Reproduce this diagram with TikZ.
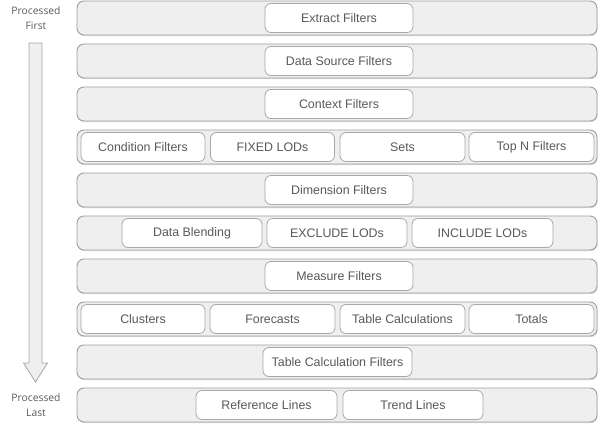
\documentclass[tikz,border=0pt]{standalone}
\usepackage{fontspec}
\setmainfont{Liberation Sans}
\newfontfamily\labelfont{Open Sans}
\usetikzlibrary{shadows}
\definecolor{bandfill}{HTML}{EFEFEF}
\definecolor{bandline}{HTML}{9E9E9E}
\definecolor{boxline}{HTML}{A8A8A8}
\definecolor{txt}{HTML}{595959}
\tikzset{
  band/.style={draw=bandline, line width=0.9pt, fill=bandfill, rounded corners=7pt,
    minimum width=520pt, minimum height=34pt, inner sep=0pt,
    drop shadow={shadow xshift=0.6pt, shadow yshift=-1.2pt, opacity=0.35, fill=black!40}},
  cell/.style={draw=boxline, line width=0.8pt, fill=white, rounded corners=6pt,
    minimum height=29pt, inner sep=0pt, text=txt, font=\fontsize{12.4}{14}\selectfont},
  sidelabel/.style={text=txt, font=\labelfont\fontsize{10.3}{15}\selectfont, align=center, inner sep=0pt},
  flowarrow/.style={draw=boxline, line width=0.8pt, fill=bandfill}
}
\begin{document}
\begin{tikzpicture}[x=1pt,y=-1pt]
\useasboundingbox (0,0) rectangle (600,428);
% bands
\foreach \i in {0,...,9}{
  \node[band] (row\i) at (337,{18+43*\i}) {};
}
% row 1-3
\node[cell, minimum width=148pt] (extract) at (339,18) {Extract Filters};
\node[cell, minimum width=148pt] (datasource) at (339,61) {Data Source Filters};
\node[cell, minimum width=148pt] (context) at (339,104) {Context Filters};
% row 4
\node[cell, minimum width=124pt] (condition) at (143,147) {Condition Filters};
\node[cell, minimum width=124pt] (fixed) at (272.5,147) {FIXED LODs};
\node[cell, minimum width=125pt] (sets) at (402.5,147) {Sets};
\node[cell, minimum width=125pt] (topn) at (531.5,147) {Top N Filters};
% row 5
\node[cell, minimum width=148pt] (dimension) at (339,190) {Dimension Filters};
% row 6
\node[cell, minimum width=140pt] (blending) at (192,233) {Data Blending};
\node[cell, minimum width=140pt] (exclude) at (337,233) {EXCLUDE LODs};
\node[cell, minimum width=141pt] (include) at (482.5,233) {INCLUDE LODs};
% row 7
\node[cell, minimum width=148pt] (measure) at (339,276) {Measure Filters};
% row 8
\node[cell, minimum width=124pt] (clusters) at (143,319) {Clusters};
\node[cell, minimum width=125pt] (forecasts) at (272.5,319) {Forecasts};
\node[cell, minimum width=125pt] (tablecalc) at (402.5,319) {Table Calculations};
\node[cell, minimum width=125pt] (totals) at (531.5,319) {Totals};
% row 9
\node[cell, minimum width=149pt] (tcfilters) at (337.5,362) {Table Calculation Filters};
% row 10
\node[cell, minimum width=141pt] (reflines) at (266.5,405) {Reference Lines};
\node[cell, minimum width=140pt] (trendlines) at (413,405) {Trend Lines};
% side labels
\node[sidelabel] (first) at (36,18) {Processed\\First};
\node[sidelabel] (last) at (36,405) {Processed\\Last};
% arrow
\coordinate (atop) at (35.5,43);
\coordinate (atip) at (35.5,382);
\draw[flowarrow] (29,43) -- (42,43) -- (42,363) -- (47.5,363) -- (atip) -- (23.5,363) -- (29,363) -- cycle;
\end{tikzpicture}
\end{document}
